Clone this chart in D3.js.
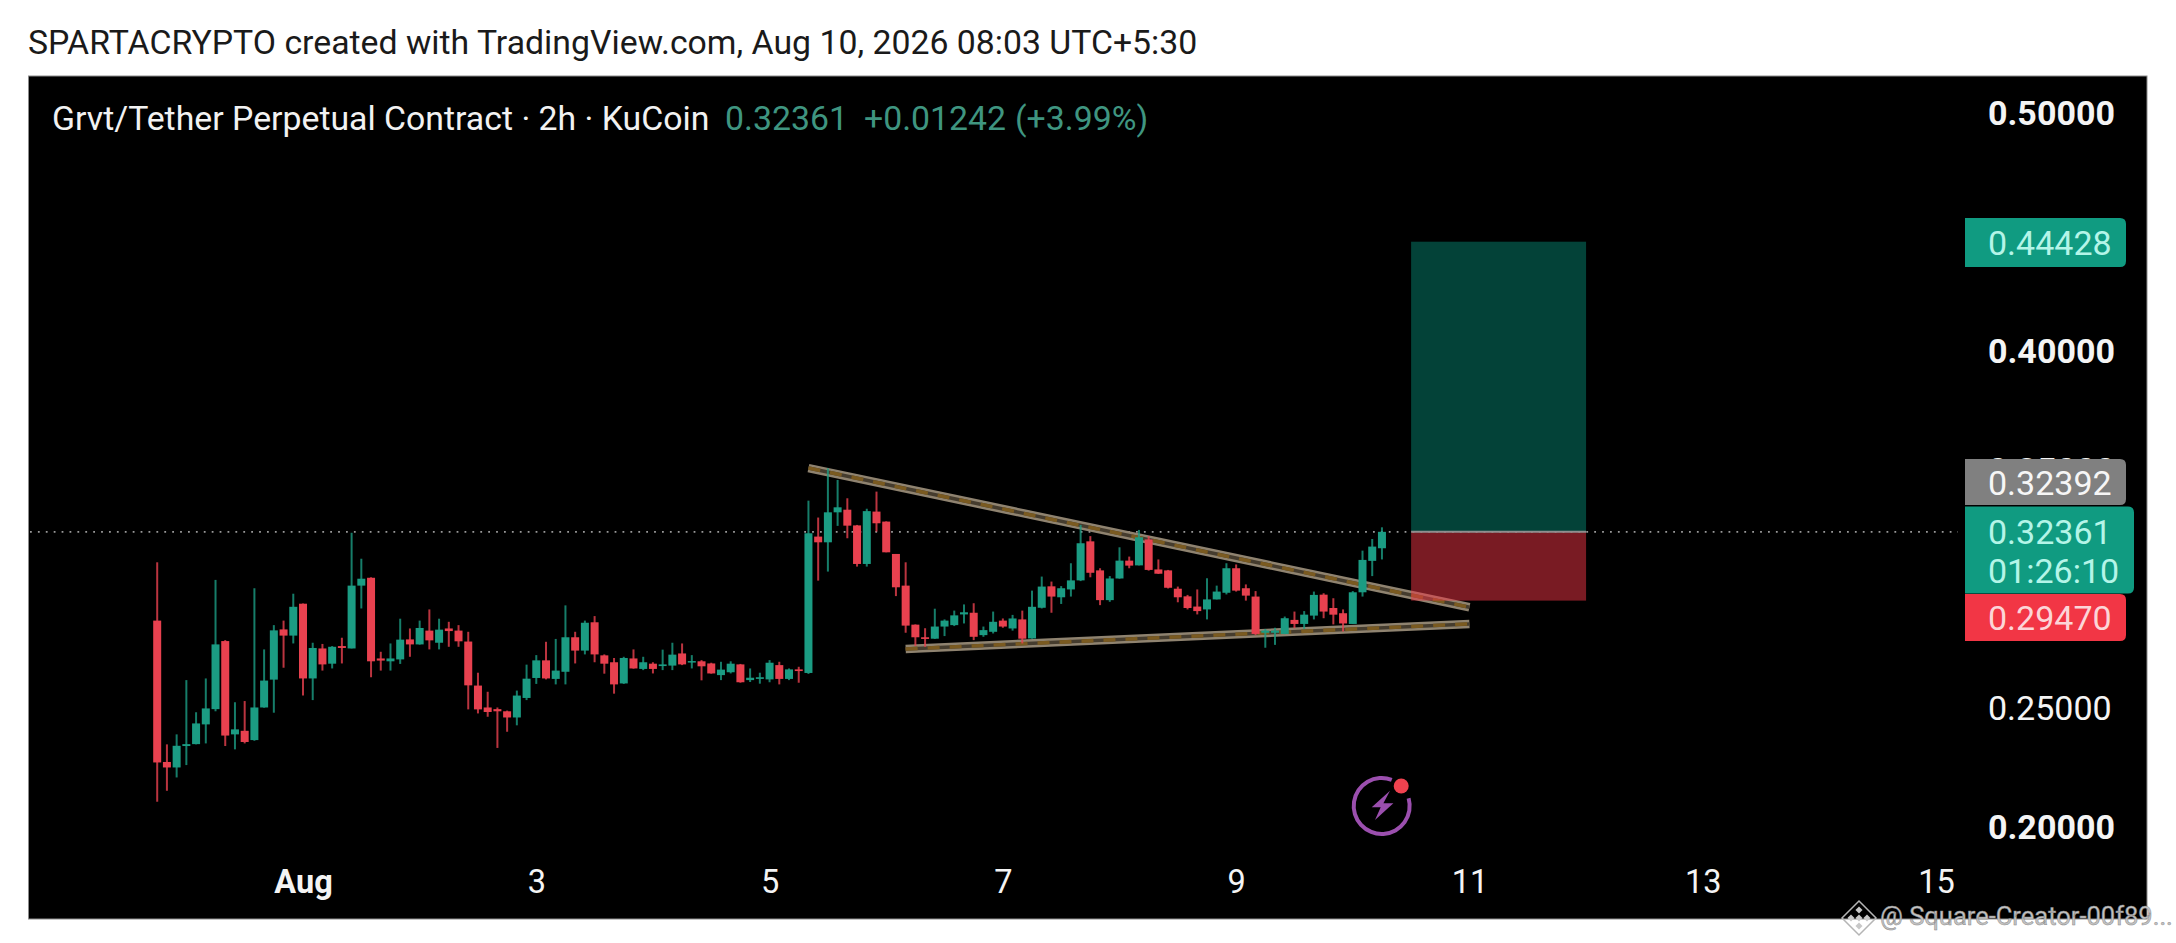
<!DOCTYPE html>
<html>
<head>
<meta charset="utf-8">
<script src="https://cdnjs.cloudflare.com/ajax/libs/d3/7.8.5/d3.min.js"></script>
<style>
    html, body { margin: 0; padding: 0; background: #fff; }
    svg { display: block; }
    text { font-family: Roboto, sans-serif; }
</style>
</head>
<body>
<script>
// 2h candles, first one opens Jul 30 18:00
var firstCandle = Date.UTC(2026, 6, 30, 18);
var opens = [
    .2863,.2269,.2246,.2336,.2344,.2427,.2491,.2777,.2385,.2400,.2361,.2498,.2615,.2826,.2800,.2934,.2620,.2746,.2682,.2756,
    .2746,.3010,.3043,.2704,.2692,.2700,.2784,.2763,.2821,.2770,.2830,.2821,.2775,.2590,.2498,.2491,.2482,.2456,.2538,.2622,
    .2696,.2618,.2648,.2793,.2737,.2856,.2717,.2688,.2599,.2704,.2660,.2682,.2672,.2674,.2725,.2688,.2692,.2683,.2634,.2646,
    .2679,.2613,.2618,.2616,.2676,.2618,.2658,.2643,.3216,.3192,.3318,.3329,.3263,.3101,.3321,.3279,.3143,.3010,.2846,.2793,
    .2787,.2838,.2844,.2889,.2896,.2802,.2816,.2863,.2830,.2868,.2788,.2917,.3007,.2961,.2994,.3032,.3196,.3074,.2949,.3040,
    .3115,.3095,.3204,.3078,.3074,.2997,.2965,.2922,.2910,.2952,.2980,.3083,.2999,.2964,.2812,.2812,.2807,.2866,.2849,.2884,
    .2972,.2916,.2894,.2849,.2982,.3114,.3167
];
var highs = [
    .3108,.2343,.2385,.2613,.2478,.2620,.3034,.2781,.2520,.2525,.2999,.2742,.2844,.2863,.2976,.2935,.2770,.2765,.2756,.2791,
    .3232,.3123,.3045,.2732,.2767,.2871,.2830,.2863,.2910,.2871,.2858,.2844,.2816,.2644,.2564,.2498,.2485,.2569,.2678,.2718,
    .2774,.2786,.2927,.2816,.2863,.2882,.2721,.2706,.2711,.2742,.2711,.2688,.2741,.2770,.2767,.2718,.2697,.2686,.2690,.2692,
    .2681,.2662,.2644,.2697,.2690,.2662,.2669,.3367,.3296,.3503,.3454,.3377,.3265,.3333,.3405,.3280,.3143,.3108,.2847,.2831,
    .2913,.2868,.2905,.2931,.2936,.2838,.2901,.2872,.2887,.2905,.2989,.3048,.3027,.3008,.3104,.3265,.3218,.3083,.3050,.3171,
    .3132,.3244,.3218,.3120,.3076,.3006,.2971,.2994,.3041,.3010,.3104,.3099,.3015,.2987,.2828,.2833,.2880,.2901,.2903,.2985,
    .2978,.2957,.2910,.2987,.3157,.3206,.3255
];
var lows = [
    .2102,.2148,.2204,.2256,.2343,.2347,.2482,.2336,.2322,.2347,.2358,.2497,.2476,.2665,.2767,.2548,.2529,.2653,.2662,.2683,
    .2746,.2914,.2625,.2653,.2653,.2681,.2711,.2762,.2742,.2742,.2753,.2753,.2490,.2473,.2459,.2328,.2396,.2423,.2529,.2597,
    .2616,.2595,.2595,.2683,.2721,.2688,.2640,.2556,.2597,.2661,.2655,.2641,.2655,.2655,.2676,.2662,.2612,.2640,.2613,.2641,
    .2602,.2605,.2598,.2604,.2595,.2613,.2602,.2639,.3031,.3069,.3261,.3209,.3090,.3090,.3237,.3150,.2966,.2812,.2756,.2753,
    .2786,.2798,.2840,.2851,.2781,.2795,.2809,.2833,.2821,.2767,.2787,.2914,.2896,.2933,.2964,.3029,.3045,.2928,.2942,.3039,
    .3083,.3095,.3073,.3059,.2998,.2940,.2910,.2889,.2868,.2952,.2973,.2985,.2947,.2802,.2749,.2761,.2806,.2831,.2828,.2868,
    .2873,.2847,.2817,.2849,.2964,.3050,.3120
];
var closes = [
    .2267,.2246,.2337,.2344,.2431,.2494,.2763,.2380,.2406,.2353,.2498,.2611,.2822,.2800,.2921,.2620,.2748,.2679,.2753,.2748,
    .3010,.3039,.2692,.2695,.2704,.2783,.2763,.2832,.2780,.2825,.2819,.2776,.2591,.2490,.2479,.2482,.2456,.2548,.2619,.2696,
    .2620,.2653,.2793,.2737,.2854,.2721,.2682,.2595,.2706,.2662,.2688,.2660,.2679,.2720,.2679,.2693,.2671,.2641,.2657,.2682,
    .2604,.2623,.2625,.2686,.2618,.2658,.2651,.3230,.3192,.3318,.3339,.3262,.3101,.3323,.3272,.3150,.3003,.2842,.2793,.2786,
    .2838,.2863,.2885,.2898,.2795,.2823,.2858,.2838,.2872,.2787,.2921,.3006,.2964,.2999,.3032,.3188,.3064,.2949,.3040,.3115,
    .3094,.3213,.3076,.3060,.3001,.2961,.2916,.2903,.2952,.2985,.3083,.2989,.2968,.2807,.2821,.2821,.2873,.2849,.2888,.2971,
    .2901,.2888,.2851,.2982,.3118,.3174,.3236
];

// axis (0.30 and 0.45 are covered by the price tags in the picture)
var dayTicks = [1, 3, 5, 7, 9, 11, 13, 15];
var priceTicks = [0.20, 0.25, 0.35, 0.40, 0.50];
var boldPrices = [0.20, 0.35, 0.40, 0.50];

// drawings on the chart
var lastPrice = 0.32361;
var targetPrice = 0.44428;
var stopPrice = 0.29470;
var entryPrice = 0.32392;
var boxTopPrice = 0.4455;
var upperTrendTimes = [Date.UTC(2026, 7, 5, 8), Date.UTC(2026, 7, 11)];
var upperTrendPrices = [0.3504, 0.2919];
var lowerTrendTimes = [Date.UTC(2026, 7, 6, 4), Date.UTC(2026, 7, 11)];
var lowerTrendPrices = [0.2744, 0.2849];
var boxTimes = [Date.UTC(2026, 7, 10, 12), Date.UTC(2026, 7, 12)];

function init() {
    var w = 2176;
    var h = 943;
    var green = "#1b9c83";
    var red = "#e8414f";

    var candles = opens.map(function(o, i) {
        return {
            time: d3.utcHour.offset(new Date(firstCandle), i * 2),
            open: o, high: highs[i], low: lows[i], close: closes[i]
        };
    });

    var xScale = d3.scaleUtc()
        .domain([new Date(Date.UTC(2026, 7, 1)), new Date(Date.UTC(2026, 7, 15))])
        .range([303, 1936]);
    var yScale = d3.scaleLinear()
        .domain([0.2, 0.5])
        .range([826, 112]);

    var svg = d3.select("body").append("svg")
        .attr("width", w)
        .attr("height", h);

    // header above the panel
    svg.append("text")
        .attr("x", 28)
        .attr("y", 54)
        .attr("font-size", 33.8)
        .attr("fill", "#1a1a1a")
        .text("SPARTACRYPTO created with TradingView.com, Aug 10, 2026 08:03 UTC+5:30");

    // panel
    svg.append("rect")
        .attr("x", 28.5)
        .attr("y", 76)
        .attr("width", 2147 - 28.5)
        .attr("height", 843)
        .attr("fill", "#000")
        .attr("stroke", "#8c8c8c")
        .attr("stroke-width", 1);

    // legend
    var legend = [
        {x: 52, text: "Grvt/Tether Perpetual Contract · 2h · KuCoin", fill: "#f2f2f2"},
        {x: 725, text: "0.32361", fill: "#3f9580"},
        {x: 864, text: "+0.01242", fill: "#3f9580"},
        {x: 1015, text: "(+3.99%)", fill: "#3f9580"}
    ];
    svg.selectAll(".legend")
        .data(legend)
        .enter()
        .append("text")
        .attr("class", "legend")
        .attr("x", function(d) { return d.x; })
        .attr("y", 130)
        .attr("font-size", 33.8)
        .attr("fill", function(d) { return d.fill; })
        .text(function(d) { return d.text; });

    // axes
    var xAxis = d3.axisBottom(xScale)
        .tickValues(dayTicks.map(function(d) { return new Date(Date.UTC(2026, 7, d)); }))
        .tickSize(0)
        .tickPadding(0)
        .tickFormat(function(d) { return d.getUTCDate() === 1 ? "Aug" : d.getUTCDate(); });
    var xG = svg.append("g")
        .attr("transform", "translate(0,893)")
        .call(xAxis);
    xG.select(".domain").remove();
    xG.selectAll("text")
        .attr("y", 0)
        .attr("dy", 0)
        .attr("font-size", 32.5)
        .attr("font-family", "Roboto")
        .attr("fill", "#f4f4f4")
        .attr("font-weight", function(d) { return d.getUTCDate() === 1 ? 700 : 400; });

    var yAxis = d3.axisRight(yScale)
        .tickValues(priceTicks)
        .tickSize(0)
        .tickPadding(0)
        .tickFormat(d3.format(".5f"));
    var yG = svg.append("g")
        .attr("transform", "translate(1988,0)")
        .call(yAxis);
    yG.select(".domain").remove();
    yG.selectAll("text")
        .attr("x", 0)
        .attr("dy", "0.355em")
        .attr("font-size", 34)
        .attr("font-family", "Roboto")
        .attr("fill", "#f4f4f4")
        .attr("font-weight", function(d) { return boldPrices.indexOf(d) >= 0 ? 700 : 400; });

    // last price dotted line
    svg.append("line")
        .attr("x1", 30)
        .attr("x2", 1958)
        .attr("y1", yScale(lastPrice))
        .attr("y2", yScale(lastPrice))
        .attr("stroke", "#9a9a9a")
        .attr("stroke-width", 1.8)
        .attr("stroke-dasharray", "1.8 6.1");

    // triangle lines: tan band with a dashed brown core
    var trendLine = d3.line()
        .x(function(d) { return xScale(new Date(d[0])); })
        .y(function(d) { return yScale(d[1]); });
    var trends = [d3.zip(upperTrendTimes, upperTrendPrices), d3.zip(lowerTrendTimes, lowerTrendPrices)];
    trends.forEach(function(t) {
        svg.append("path")
            .attr("d", trendLine(t))
            .attr("fill", "none")
            .attr("stroke", "#8f8370")
            .attr("stroke-width", 8.5);
        svg.append("path")
            .attr("d", trendLine(t))
            .attr("fill", "none")
            .attr("stroke", "#453c2e")
            .attr("stroke-width", 3.6);
        svg.append("path")
            .attr("d", trendLine(t))
            .attr("fill", "none")
            .attr("stroke", "#7a5a20")
            .attr("stroke-width", 3.6)
            .attr("stroke-dasharray", "12 10");
    });

    // long position box
    var boxX = xScale(new Date(boxTimes[0]));
    var boxW = xScale(new Date(boxTimes[1])) - boxX;
    svg.append("rect")
        .attr("x", boxX)
        .attr("y", yScale(boxTopPrice))
        .attr("width", boxW)
        .attr("height", yScale(lastPrice) - yScale(boxTopPrice))
        .attr("fill", "#089981")
        .attr("fill-opacity", 0.43);
    svg.append("rect")
        .attr("x", boxX)
        .attr("y", yScale(lastPrice))
        .attr("width", boxW)
        .attr("height", yScale(stopPrice) - yScale(lastPrice))
        .attr("fill", "#f23645")
        .attr("fill-opacity", 0.5);
    svg.append("line")
        .attr("x1", boxX)
        .attr("x2", boxX + boxW)
        .attr("y1", yScale(lastPrice))
        .attr("y2", yScale(lastPrice))
        .attr("stroke", "#8f8f8f")
        .attr("stroke-width", 2);

    // candles
    var candle = svg.append("g").selectAll("g")
        .data(candles)
        .enter()
        .append("g")
        .attr("fill", function(d) { return d.close >= d.open ? green : red; })
        .attr("stroke", function(d) { return d.close >= d.open ? green : red; });
    candle.append("line")
        .attr("x1", function(d) { return xScale(d.time); })
        .attr("x2", function(d) { return xScale(d.time); })
        .attr("y1", function(d) { return yScale(d.high); })
        .attr("y2", function(d) { return yScale(d.low); })
        .attr("stroke-width", 2)
        .attr("stroke-opacity", 0.8);
    candle.append("rect")
        .attr("x", function(d) { return xScale(d.time) - 4; })
        .attr("y", function(d) { return yScale(Math.max(d.open, d.close)); })
        .attr("width", 8)
        .attr("height", function(d) { return Math.max(1.5, Math.abs(yScale(d.open) - yScale(d.close))); })
        .attr("stroke", "none");

    // price labels on the right
    var tags = [
        {y: 218, h: 49, w: 161, bg: "#109b81"},
        {y: 459, h: 46, w: 161, bg: "#808080"},
        {y: 506.5, h: 87, w: 169, bg: "#109b81"},
        {y: 594, h: 47, w: 161, bg: "#f23645"}
    ];
    svg.selectAll(".tag")
        .data(tags)
        .enter()
        .append("path")
        .attr("class", "tag")
        .attr("fill", function(d) { return d.bg; })
        .attr("d", function(d) {
            var r = 6, x0 = 1965, x1 = 1965 + d.w, y0 = d.y, y1 = d.y + d.h;
            return "M" + x0 + "," + y0 + "H" + (x1 - r) + "Q" + x1 + "," + y0 + " " + x1 + "," + (y0 + r) +
                "V" + (y1 - r) + "Q" + x1 + "," + y1 + " " + (x1 - r) + "," + y1 + "H" + x0 + "Z";
        });
    var tagTexts = [
        {y: 243, text: d3.format(".5f")(targetPrice), fill: "#b4f5e8"},
        {y: 483, text: d3.format(".5f")(entryPrice), fill: "#f6f6f6"},
        {y: 532, text: d3.format(".5f")(lastPrice), fill: "#b4f5e8"},
        {y: 571, text: "01:26:10", fill: "#b4f5e8"},
        {y: 618, text: d3.format(".5f")(stopPrice), fill: "#fcd5d8"}
    ];
    svg.selectAll(".tagText")
        .data(tagTexts)
        .enter()
        .append("text")
        .attr("class", "tagText")
        .attr("x", 1988)
        .attr("y", function(d) { return d.y; })
        .attr("dy", "0.355em")
        .attr("font-size", 34)
        .attr("fill", function(d) { return d.fill; })
        .text(function(d) { return d.text; });

    // flash icon
    var icon = svg.append("g").attr("transform", "translate(1381.7,806)");
    icon.append("path")
        .attr("d", d3.arc()({
            innerRadius: 26,
            outerRadius: 30,
            startAngle: 74 * Math.PI / 180,
            endAngle: 381 * Math.PI / 180
        }))
        .attr("fill", "#9b4fae");
    icon.append("path")
        .attr("d", "M8.3,-15.3L-10,1.3H-1L-6.7,14L11.7,-2.7H1.7Z")
        .attr("fill", "#9b4fae");
    icon.append("circle")
        .attr("cx", 19.5)
        .attr("cy", -20)
        .attr("r", 7.5)
        .attr("fill", "#f0424f");

    // watermark
    var mark = svg.append("g").attr("transform", "translate(1859,918)");
    mark.append("path")
        .attr("d", "M0,-17L17,0L0,17L-17,0Z")
        .attr("fill", "none")
        .attr("stroke", "#b5b5b5")
        .attr("stroke-width", 1.5);
    [[0, -8], [-8, 0], [8, 0], [0, 8], [0, 0]].forEach(function(p) {
        mark.append("rect")
            .attr("x", p[0] - 2.5)
            .attr("y", p[1] - 2.5)
            .attr("width", 5)
            .attr("height", 5)
            .attr("transform", "rotate(45 " + p[0] + " " + p[1] + ")")
            .attr("fill", "#c8c8c8");
    });
    svg.append("text")
        .attr("x", 1880)
        .attr("y", 925)
        .attr("font-size", 25.5)
        .attr("fill", "#c4c4c4")
        .attr("stroke", "#8a8a8a")
        .attr("stroke-width", 0.5)
        .text("@ Square-Creator-00f89...");
}
window.onload = init;
</script>
</body>
</html>
